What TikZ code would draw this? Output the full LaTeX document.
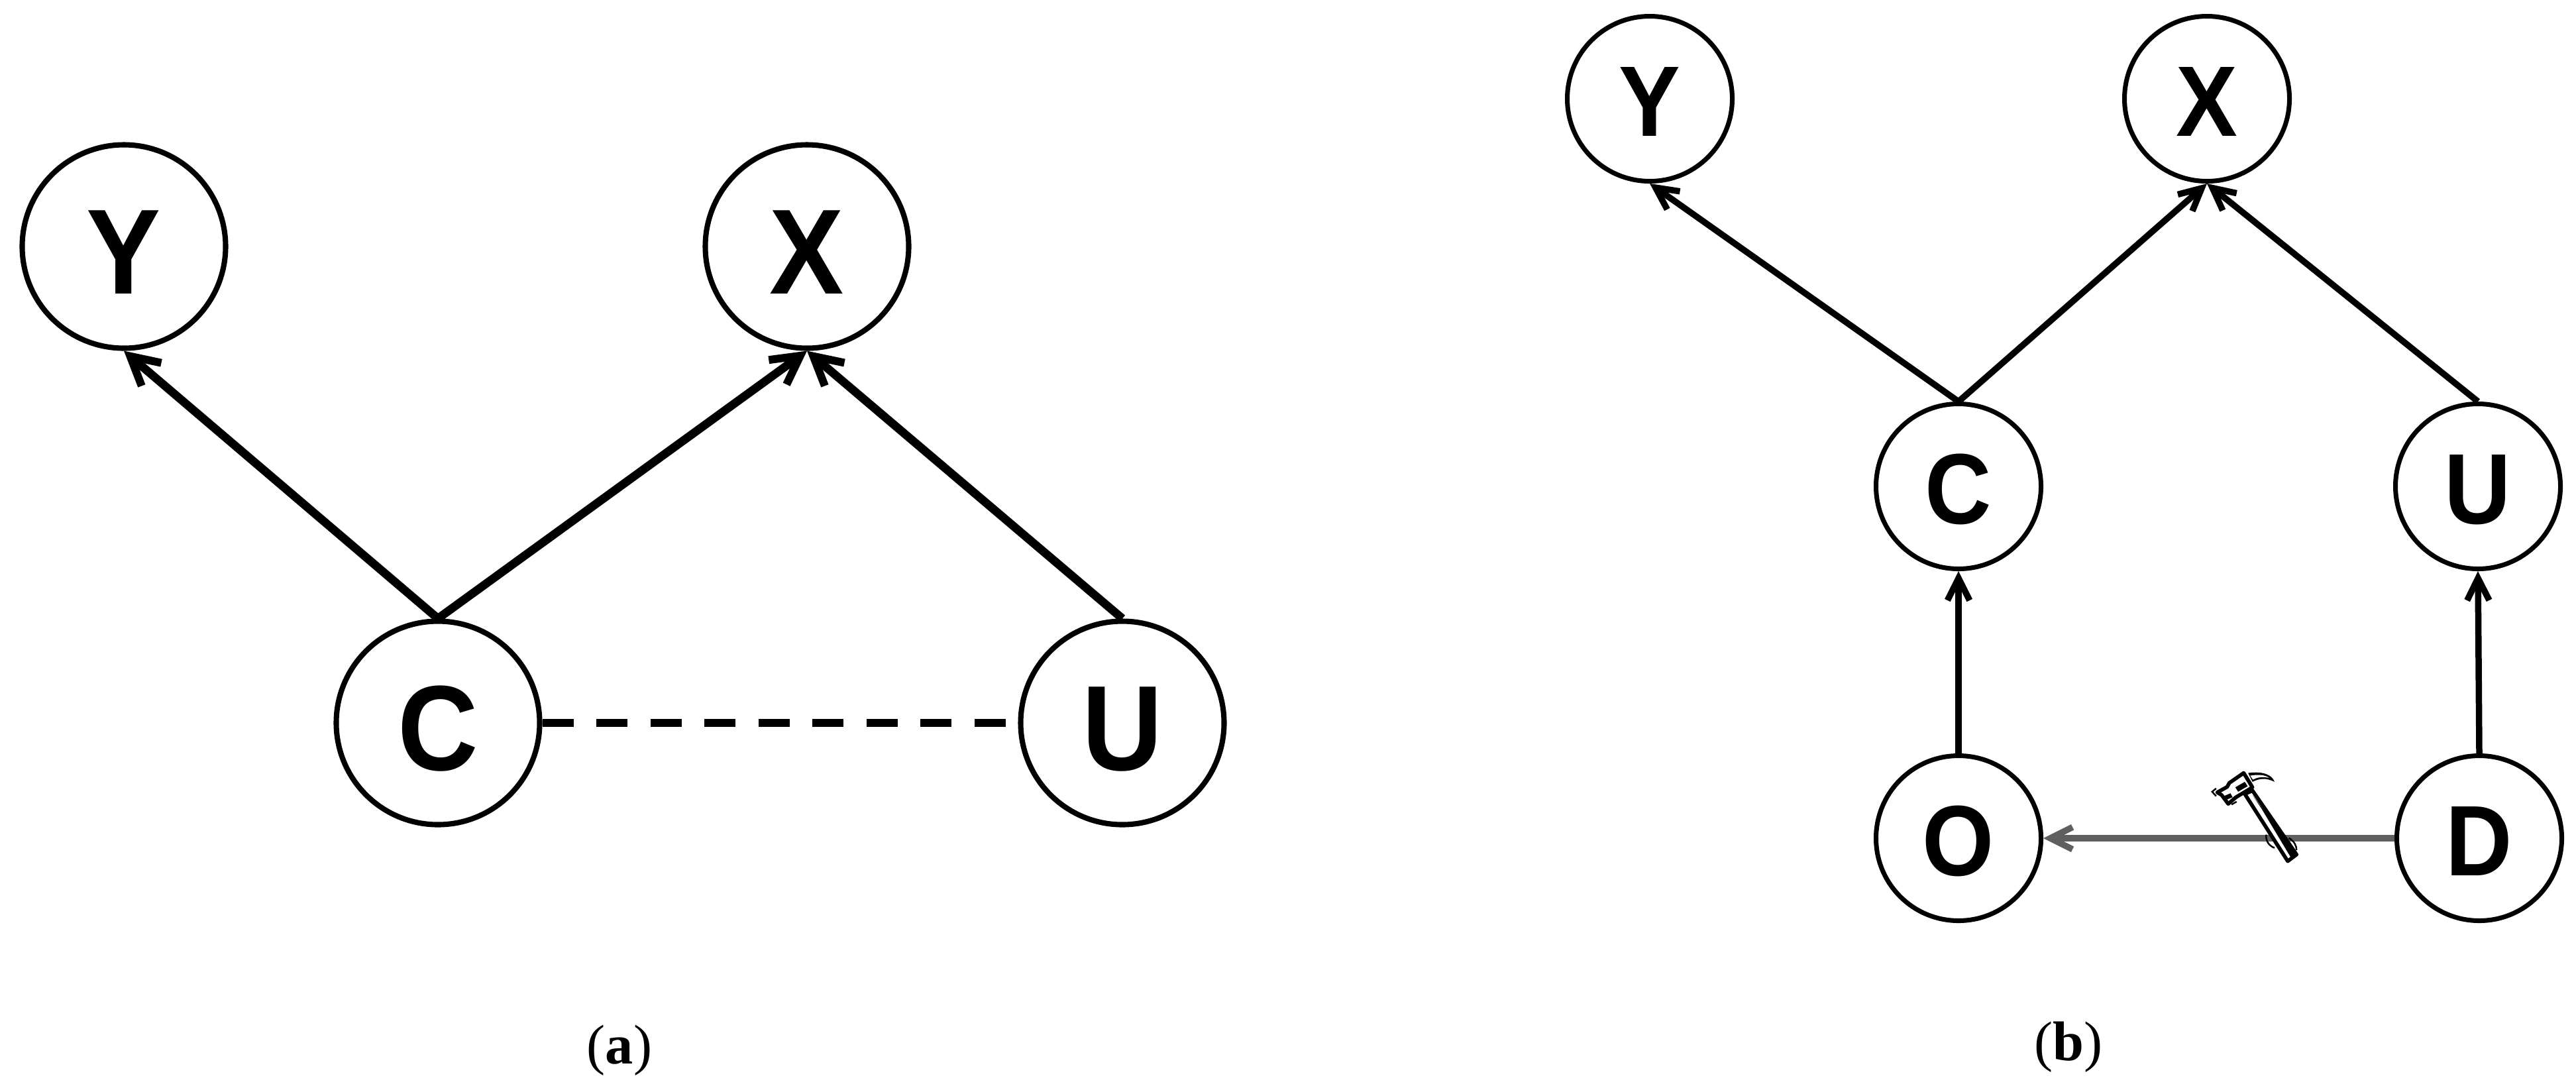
\documentclass[tikz,border=0pt]{standalone}
\usepackage{fontspec}
\setmainfont{Liberation Serif}
\newfontfamily\varfont[FakeStretch=0.92]{Liberation Sans}
\usetikzlibrary{positioning,arrows.meta}
\definecolor{cLine}{HTML}{000000}
\definecolor{cDo}{HTML}{5F5F5F}
\tikzset{
  bigvar/.style={circle,draw=cLine,fill=white,line width=2.3pt,minimum size=3.07cm,inner sep=0pt,text height=1.42cm,text depth=0pt,font=\varfont\bfseries\fontsize{52}{52}\selectfont},
  smallvar/.style={bigvar,line width=2pt,minimum size=2.49cm,text height=1.12cm,font=\varfont\bfseries\fontsize{43}{43}\selectfont},
  bigedge/.style={-{Straight Barb[length=12pt,width=13pt,line width=3.4pt]},line width=3.6pt,draw=cLine},
  smalledge/.style={-{Straight Barb[length=9.5pt,width=9.5pt,line width=2.7pt]},line width=2.7pt,draw=cLine},
  nolink/.style={line width=3.6pt,draw=cLine,dash pattern=on 0.47cm off 0.345cm},
  doedge/.style={smalledge,draw=cDo},
  capt/.style={font=\fontsize{24}{24}\selectfont},
  hammerpart/.style={draw=black,fill=white,line width=1.6pt,line join=round},
  hammertick/.style={draw=black,line width=0.7pt},
}
\begin{document}
\begin{tikzpicture}[on grid]
  \useasboundingbox (0,0) rectangle (38.88,-16.44);
  % panel a
  \node[bigvar] (ya) at (1.87,-3.72) {Y};
  \node[bigvar,right=10.31cm of ya] (xa) {X};
  \node[bigvar,below right=7.19cm and 4.74cm of ya] (ca) {C};
  \node[bigvar,right=10.33cm of ca] (ua) {U};
  \node[capt] (capa) at (9.35,-15.85) {(\textbf{a})};
  \draw[bigedge] (ca.north) -- (ya.south);
  \draw[bigedge] (ca.north) -- (xa.south);
  \draw[bigedge] (ua.north) -- (xa.south);
  \draw[nolink] (ca.east) -- (ua.west);
  % panel b
  \node[smallvar] (yb) at (24.90,-1.49) {Y};
  \node[smallvar,right=8.41cm of yb] (xb) {X};
  \node[smallvar,below right=5.85cm and 4.66cm of yb] (cb) {C};
  \node[smallvar,right=7.84cm of cb] (ub) {U};
  \node[smallvar,below=5.31cm of cb] (ob) {O};
  \node[smallvar,right=7.86cm of ob] (db) {D};
  \node[capt] (capb) at (31.22,-15.80) {(\textbf{b})};
  \draw[smalledge] (cb.north) -- (yb.south);
  \draw[smalledge] (cb.north) -- (xb.south);
  \draw[smalledge] (ub.north) -- (xb.south);
  \draw[smalledge] (ob.north) -- (cb.south);
  \draw[smalledge] (db.north) -- (ub.south);
  \draw[doedge] (db.west) -- (ob.east);
  % hammer on the cut link
  \begin{scope}[shift={(32.50,-11.20)},x=0.003333cm,y=-0.003333cm]
    \draw[hammerpart] (415,235) -- (450,220) -- (650,510) -- (610,540) -- cycle;
    \fill[black] (450,240) -- (650,510) -- (625,525) -- (490,300) -- cycle;
    \fill[black] (430,140) .. controls (500,130) and (540,150) .. (550,180) .. controls (510,160) and (480,165) .. (450,180) -- cycle;
    \fill[white] (440,152) .. controls (480,145) and (510,150) .. (525,162) .. controls (495,155) and (470,160) .. (452,170) -- cycle;
    \draw[hammerpart] (410,140) -- (450,205) -- (375,250) -- (340,280) -- (310,240) -- (290,228) -- (335,203) -- (345,185) -- cycle;
    \fill[black] (372,205) -- (415,180) -- (428,200) -- (385,225) -- cycle;
    \fill[black] (320,245) -- (350,232) -- (360,250) -- (330,262) -- cycle;
    \draw[hammertick] (512,420) .. controls (510,450) and (525,470) .. (550,480);
    \draw[hammertick] (615,435) .. controls (640,450) and (650,470) .. (650,490);
    \draw[hammertick] (285,210) -- (267,225) -- (285,245);
    \draw[hammertick] (355,283) -- (378,270);
  \end{scope}
\end{tikzpicture}
\end{document}
